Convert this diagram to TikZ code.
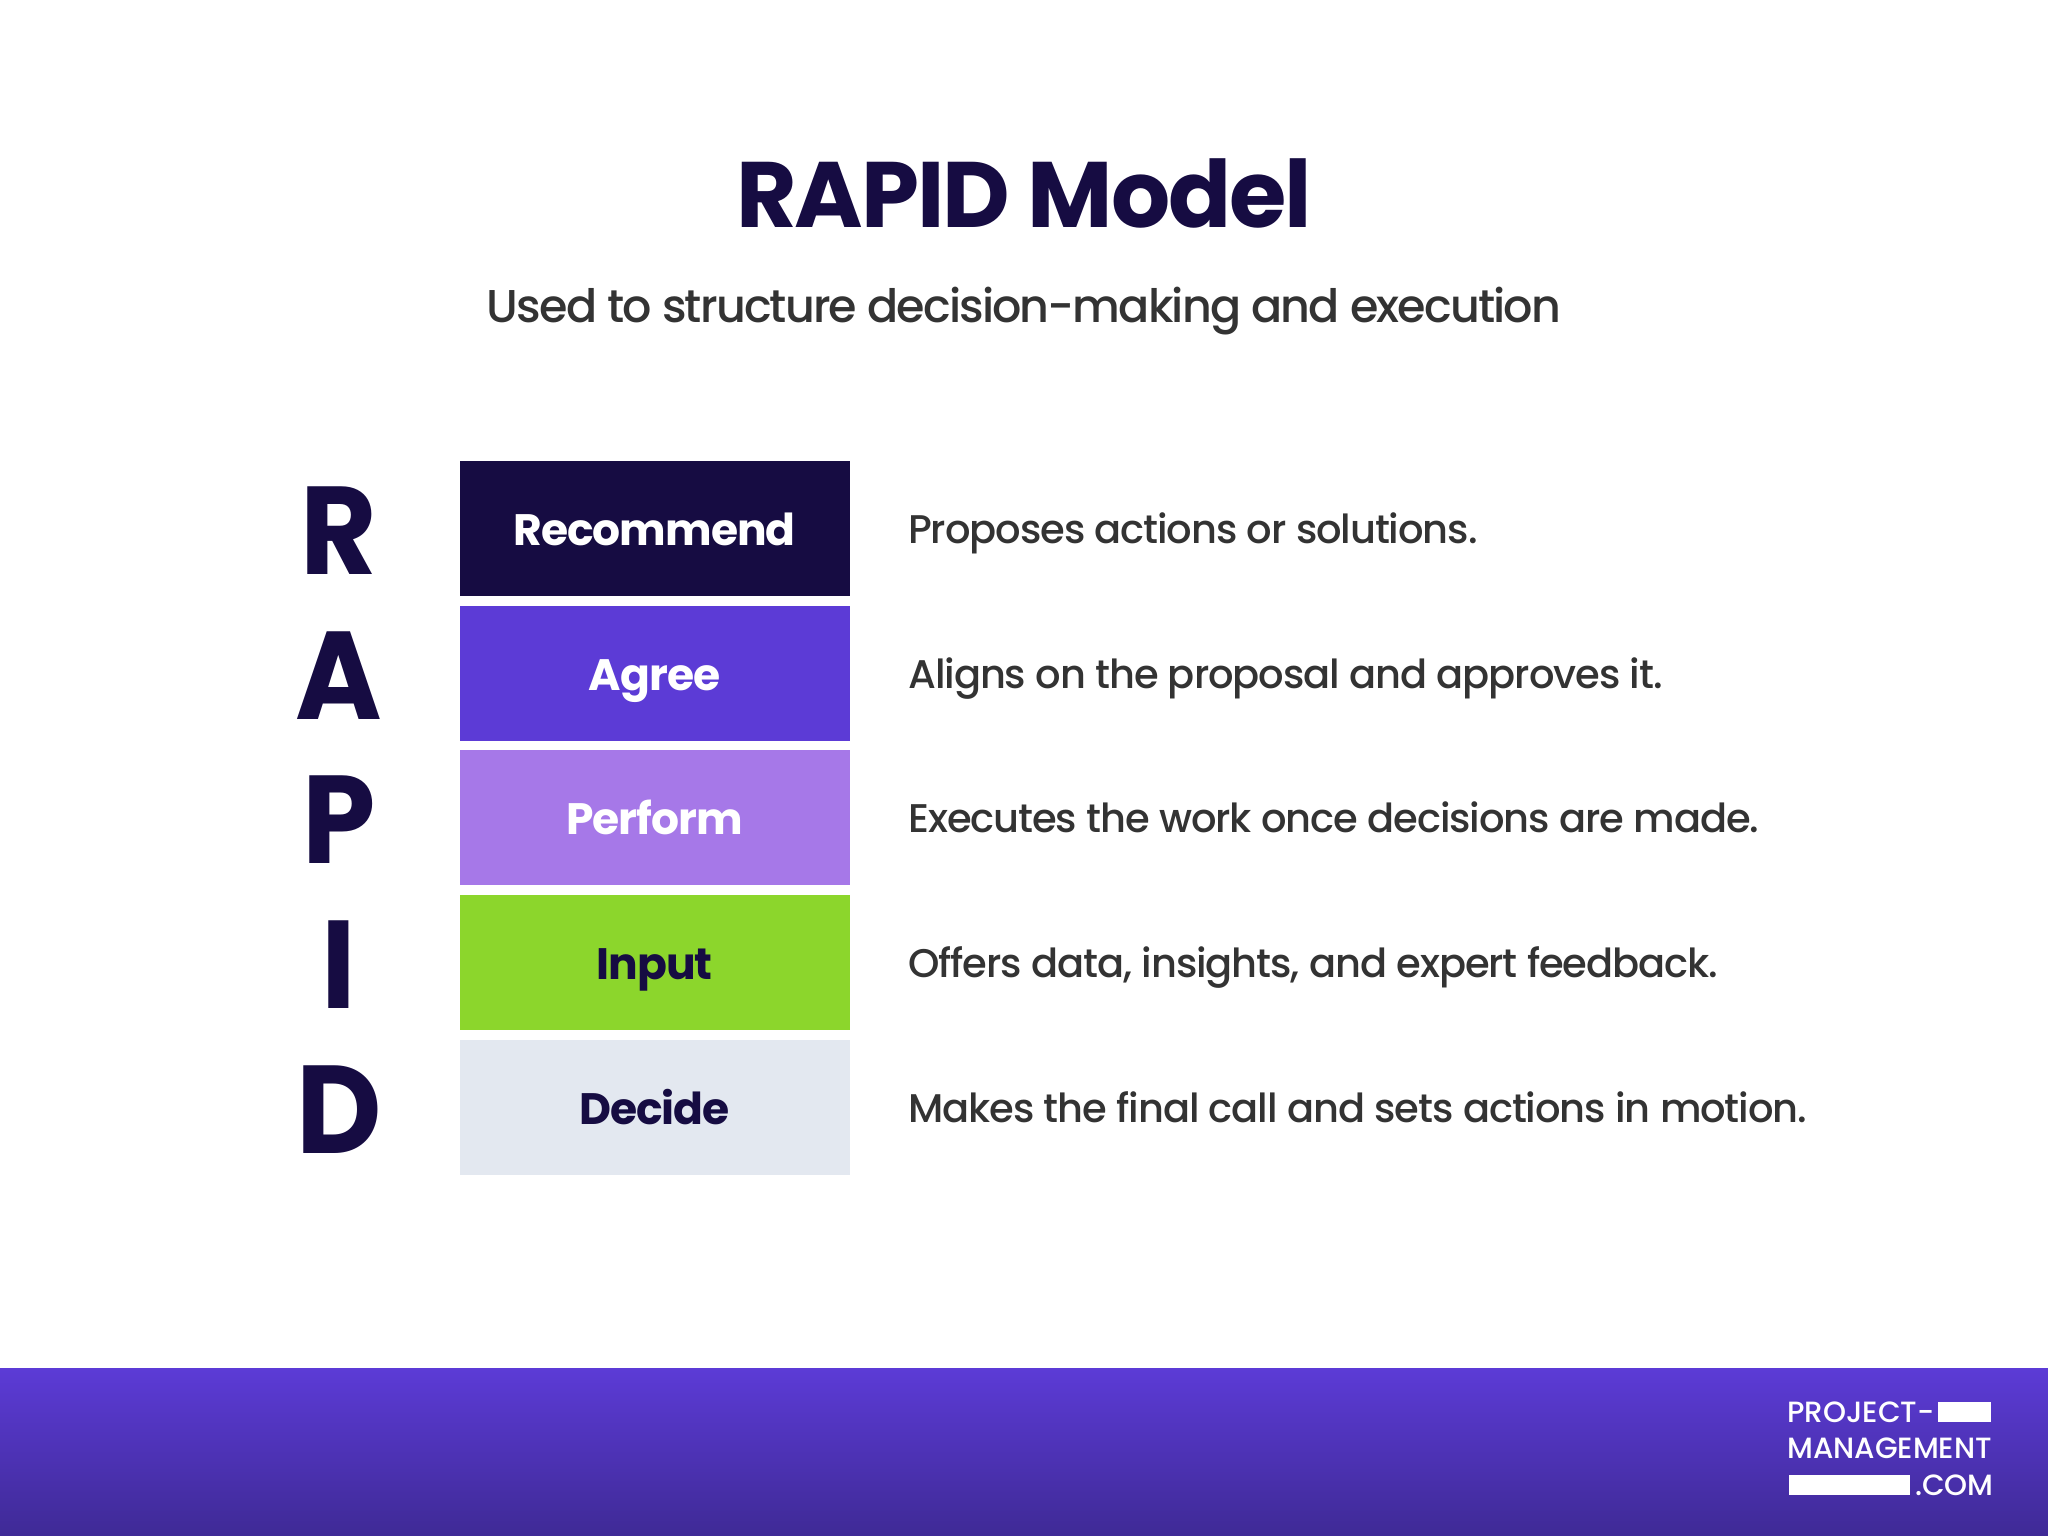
\documentclass[tikz,border=0pt]{standalone}
\usepackage{fontspec}
\setmainfont{Poppins}
\newfontfamily\popsub[LetterSpace=-4.0]{Poppins Medium}
\newfontfamily\popdesc[LetterSpace=-2.7]{Poppins Medium}
\newfontfamily\poplogo{Poppins Medium}
\newfontfamily\poptitle[LetterSpace=-2.3]{Poppins Bold}
\newfontfamily\poprole[LetterSpace=-2.2]{Poppins Bold}
\newfontfamily\popletter[FakeStretch=0.94]{Poppins Bold}
\definecolor{navy}{HTML}{160C42}
\definecolor{violet}{HTML}{5C3BD6}
\definecolor{violetdark}{HTML}{3F2A96}
\definecolor{lilac}{HTML}{A678E8}
\definecolor{lime}{HTML}{8CD62C}
\definecolor{mist}{HTML}{E3E8F0}
\definecolor{bodytext}{HTML}{333333}
\tikzset{x=1pt,y=-1pt,
 rolebox/.style={draw=none,minimum width=390pt,minimum height=135pt,inner sep=0pt,text height=34.6pt,text depth=0pt,font=\fontsize{44}{50}\poprole,anchor=center},
 desc/.style={anchor=west,inner sep=0pt,text=bodytext,text height=30pt,text depth=0pt,font=\fontsize{40}{50}\popdesc},
 letter/.style={anchor=center,inner sep=0pt,text=navy,font=\fontsize{125}{140}\popletter},
 logotext/.style={anchor=base west,inner sep=0pt,text=white,font=\fontsize{29.3}{32}\poplogo}}
\begin{document}
\begin{tikzpicture}
\useasboundingbox (0,0) rectangle (2048,1535);
\fill[white] (0,0) rectangle (2048,1535);
\shade[top color=violet,bottom color=violetdark] (0,1368) rectangle (2048,1535);
\node[inner sep=0pt,text=navy,font=\fontsize{93}{100}\poptitle] (title) at (1024,193) {RAPID Model};
\node[inner sep=0pt,text=bodytext,text height=34pt,text depth=0pt,font=\fontsize{46}{54}\popsub] (sub) at (1024,305) {Used to structure decision-making and execution};
\node[rolebox,fill=navy,text=white] (r) at (654.5,528) {Recommend};
\node[rolebox,fill=violet,text=white] (a) at (654.5,673) {Agree};
\node[rolebox,fill=lilac,text=white] (p) at (654.5,817) {Perform};
\node[rolebox,fill=lime,text=navy] (i) at (654.5,962) {Input};
\node[rolebox,fill=mist,text=navy] (d) at (654.5,1107) {Decide};
\node[letter] (lr) at (339,531) {R};
\node[letter] (la) at (339,676) {A};
\node[letter] (lp) at (339,820) {P};
\node[letter] (li) at (339,965) {I};
\node[letter] (ld) at (339,1110) {D};
\node[desc] (dr) at (908,528) {Proposes actions or solutions.};
\node[desc] (da) at (908,673) {Aligns on the proposal and approves it.};
\node[desc] (dp) at (908,817) {Executes the work once decisions are made.};
\node[desc] (di) at (908,962) {Offers data, insights, and expert feedback.};
\node[desc] (dd) at (908,1107) {Makes the final call and sets actions in motion.};
\node[logotext] (l1) at (1787,1422) {PROJECT-};
\node[logotext] (l2) at (1787,1458) {MANAGEMENT};
\node[logotext] (l3) at (1915,1495) {.COM};
\fill[white] (1938,1402) rectangle (1991,1422);
\fill[white] (1789,1475) rectangle (1910,1495);
\end{tikzpicture}
\end{document}
